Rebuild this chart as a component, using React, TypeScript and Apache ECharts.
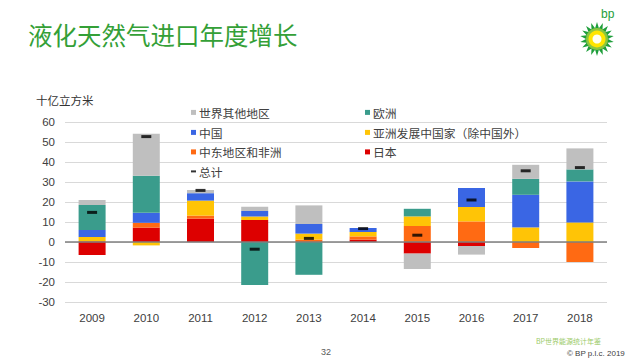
import React, { useEffect, useRef } from "react";
import * as echarts from "echarts";

const years = ["2009", "2010", "2011", "2012", "2013", "2014", "2015", "2016", "2017", "2018"];
const japan = [-6.5, 7.2, 11.7, 11, 0, 1.2, -5.8, -2, 0, 0];
const meAfrica = [0.5, 2.4, 1.5, 0, 1.2, 1.6, 8, 10.3, -3, -10];
const asiaDev = [2, -1.7, 7.5, 1.7, 3, 2.2, 4.8, 7.2, 7.3, 9.8];
const china = [3.5, 5, 3.7, 2.8, 4.8, 2, 0, 9.5, 16.3, 20.5];
const europe = [12.5, 18.5, 0, -21.5, -16.4, 0, 3.8, 0, 8, 6];
const rest = [2.5, 21, 1.6, 2.1, 9.3, 0, -7.7, -4.3, 7, 10.5];
const total = [14.8, 52.7, 25.8, -3.6, 1.8, 6.7, 3.4, 21, 35.6, 37.2];

const CJK = '"Noto Sans CJK SC", "Liberation Sans", sans-serif';
const NUM = '"Liberation Sans", Arial, sans-serif';

const seriesDefs = [
  { name: "日本", data: japan, color: "#DD0000" },
  { name: "中东地区和非洲", data: meAfrica, color: "#FF6A13" },
  { name: "亚洲发展中国家（除中国外）", data: asiaDev, color: "#FFC406" },
  { name: "中国", data: china, color: "#3A66E4" },
  { name: "欧洲", data: europe, color: "#3A9C8C" },
  { name: "世界其他地区", data: rest, color: "#BFBFBF" },
];

function legendItem(name: string, left: number, top: number, h = 5) {
  return {
    left,
    top,
    orient: "horizontal",
    padding: 0,
    itemWidth: 5,
    itemHeight: h,
    icon: "rect",
    selectedMode: false,
    data: [name],
    textStyle: { fontSize: 11.8, color: "#404040", fontFamily: CJK, padding: [0, 0, 0, -2] },
  };
}

function sunburst(cx: number, cy: number, rOut: number, rIn: number, n: number) {
  const pts: number[][] = [];
  for (let i = 0; i < n * 2; i++) {
    const r = i % 2 === 0 ? rOut : rIn;
    const a = (Math.PI * i) / n - Math.PI / 2;
    pts.push([cx + r * Math.cos(a), cy + r * Math.sin(a)]);
  }
  return pts;
}

export default function App() {
  const ref = useRef<HTMLDivElement>(null);
  useEffect(() => {
    if (!ref.current) return;
    const chart = echarts.init(ref.current, null, { renderer: "svg" });
    const bars: any[] = seriesDefs.map((s, i) => ({
      name: s.name,
      type: "bar",
      stack: "all",
      barWidth: 27,
      data: s.data,
      itemStyle: { color: s.color },
      emphasis: { disabled: true },
      ...(i === 0
        ? {
            markLine: {
              silent: true,
              symbol: "none",
              label: { show: false },
              lineStyle: { color: "#7F7F7F", type: "solid", width: 1.5 },
              data: [{ yAxis: 0 }],
            },
          }
        : {}),
    }));
    bars.push({
      name: "总计",
      type: "scatter",
      symbol: "rect",
      symbolSize: [10, 3],
      data: total,
      itemStyle: { color: "#000000" },
      z: 10,
    });
    chart.setOption({
      animation: false,
      grid: { left: 65, right: 33, top: 122, bottom: 58 },
      xAxis: {
        type: "category",
        data: years,
        axisLine: { show: false, onZero: false },
        axisTick: { show: false },
        axisLabel: { fontSize: 11.5, color: "#404040", fontFamily: NUM, margin: 10 },
      },
      yAxis: {
        type: "value",
        min: -30,
        max: 60,
        interval: 10,
        axisLine: { show: false },
        axisTick: { show: false },
        axisLabel: { fontSize: 11.5, color: "#404040", fontFamily: NUM, margin: 10 },
        splitLine: { lineStyle: { color: "#D9D9D9", width: 1 } },
      },
      legend: [
        legendItem("世界其他地区", 191, 106.5),
        legendItem("中国", 191, 126.5),
        legendItem("中东地区和非洲", 191, 146),
        legendItem("总计", 191, 165.5, 2),
        legendItem("欧洲", 365, 106.5),
        legendItem("亚洲发展中国家（除中国外）", 365, 126.5),
        legendItem("日本", 365, 146),
      ],
      graphic: [
        {
          type: "text",
          left: 28,
          top: 22,
          style: { text: "液化天然气进口年度增长", fontSize: 24.5, fill: "#34A037", fontFamily: CJK },
        },
        {
          type: "text",
          x: 36,
          y: 100,
          style: { text: "十亿立方米", fontSize: 11.5, fill: "#333333", fontFamily: CJK, verticalAlign: "middle" },
        },
        {
          type: "polygon",
          shape: { points: sunburst(597, 39, 17, 11, 18) },
          style: { fill: "#1E9E3A" },
        },
        { type: "circle", shape: { cx: 597, cy: 39, r: 11 }, style: { fill: "#8CC63F" } },
        { type: "circle", shape: { cx: 597, cy: 39, r: 8.5 }, style: { fill: "#FFE500" } },
        { type: "circle", shape: { cx: 597, cy: 39, r: 4.5 }, style: { fill: "#FFFFF0" } },
        {
          type: "text",
          x: 601,
          y: 14,
          style: { text: "bp", fontSize: 12, fill: "#1E9E3A", fontFamily: NUM, verticalAlign: "middle" },
        },
        {
          type: "text",
          x: 321,
          y: 352,
          style: { text: "32", fontSize: 9, fill: "#595959", fontFamily: NUM, verticalAlign: "middle" },
        },
        {
          type: "text",
          x: 536,
          y: 341,
          style: { text: "BP世界能源统计年鉴", fontSize: 7, fill: "#9CCB6A", fontFamily: CJK, verticalAlign: "middle" },
        },
        {
          type: "text",
          x: 567,
          y: 353,
          style: { text: "© BP p.l.c. 2019", fontSize: 8, fill: "#404040", fontFamily: NUM, verticalAlign: "middle" },
        },
      ],
      series: bars,
    });
    return () => chart.dispose();
  }, []);
  return (
    <div
      ref={ref}
      style={{ position: "absolute", left: 0, top: 0, width: 640, height: 360, background: "#ffffff" }}
    />
  );
}
